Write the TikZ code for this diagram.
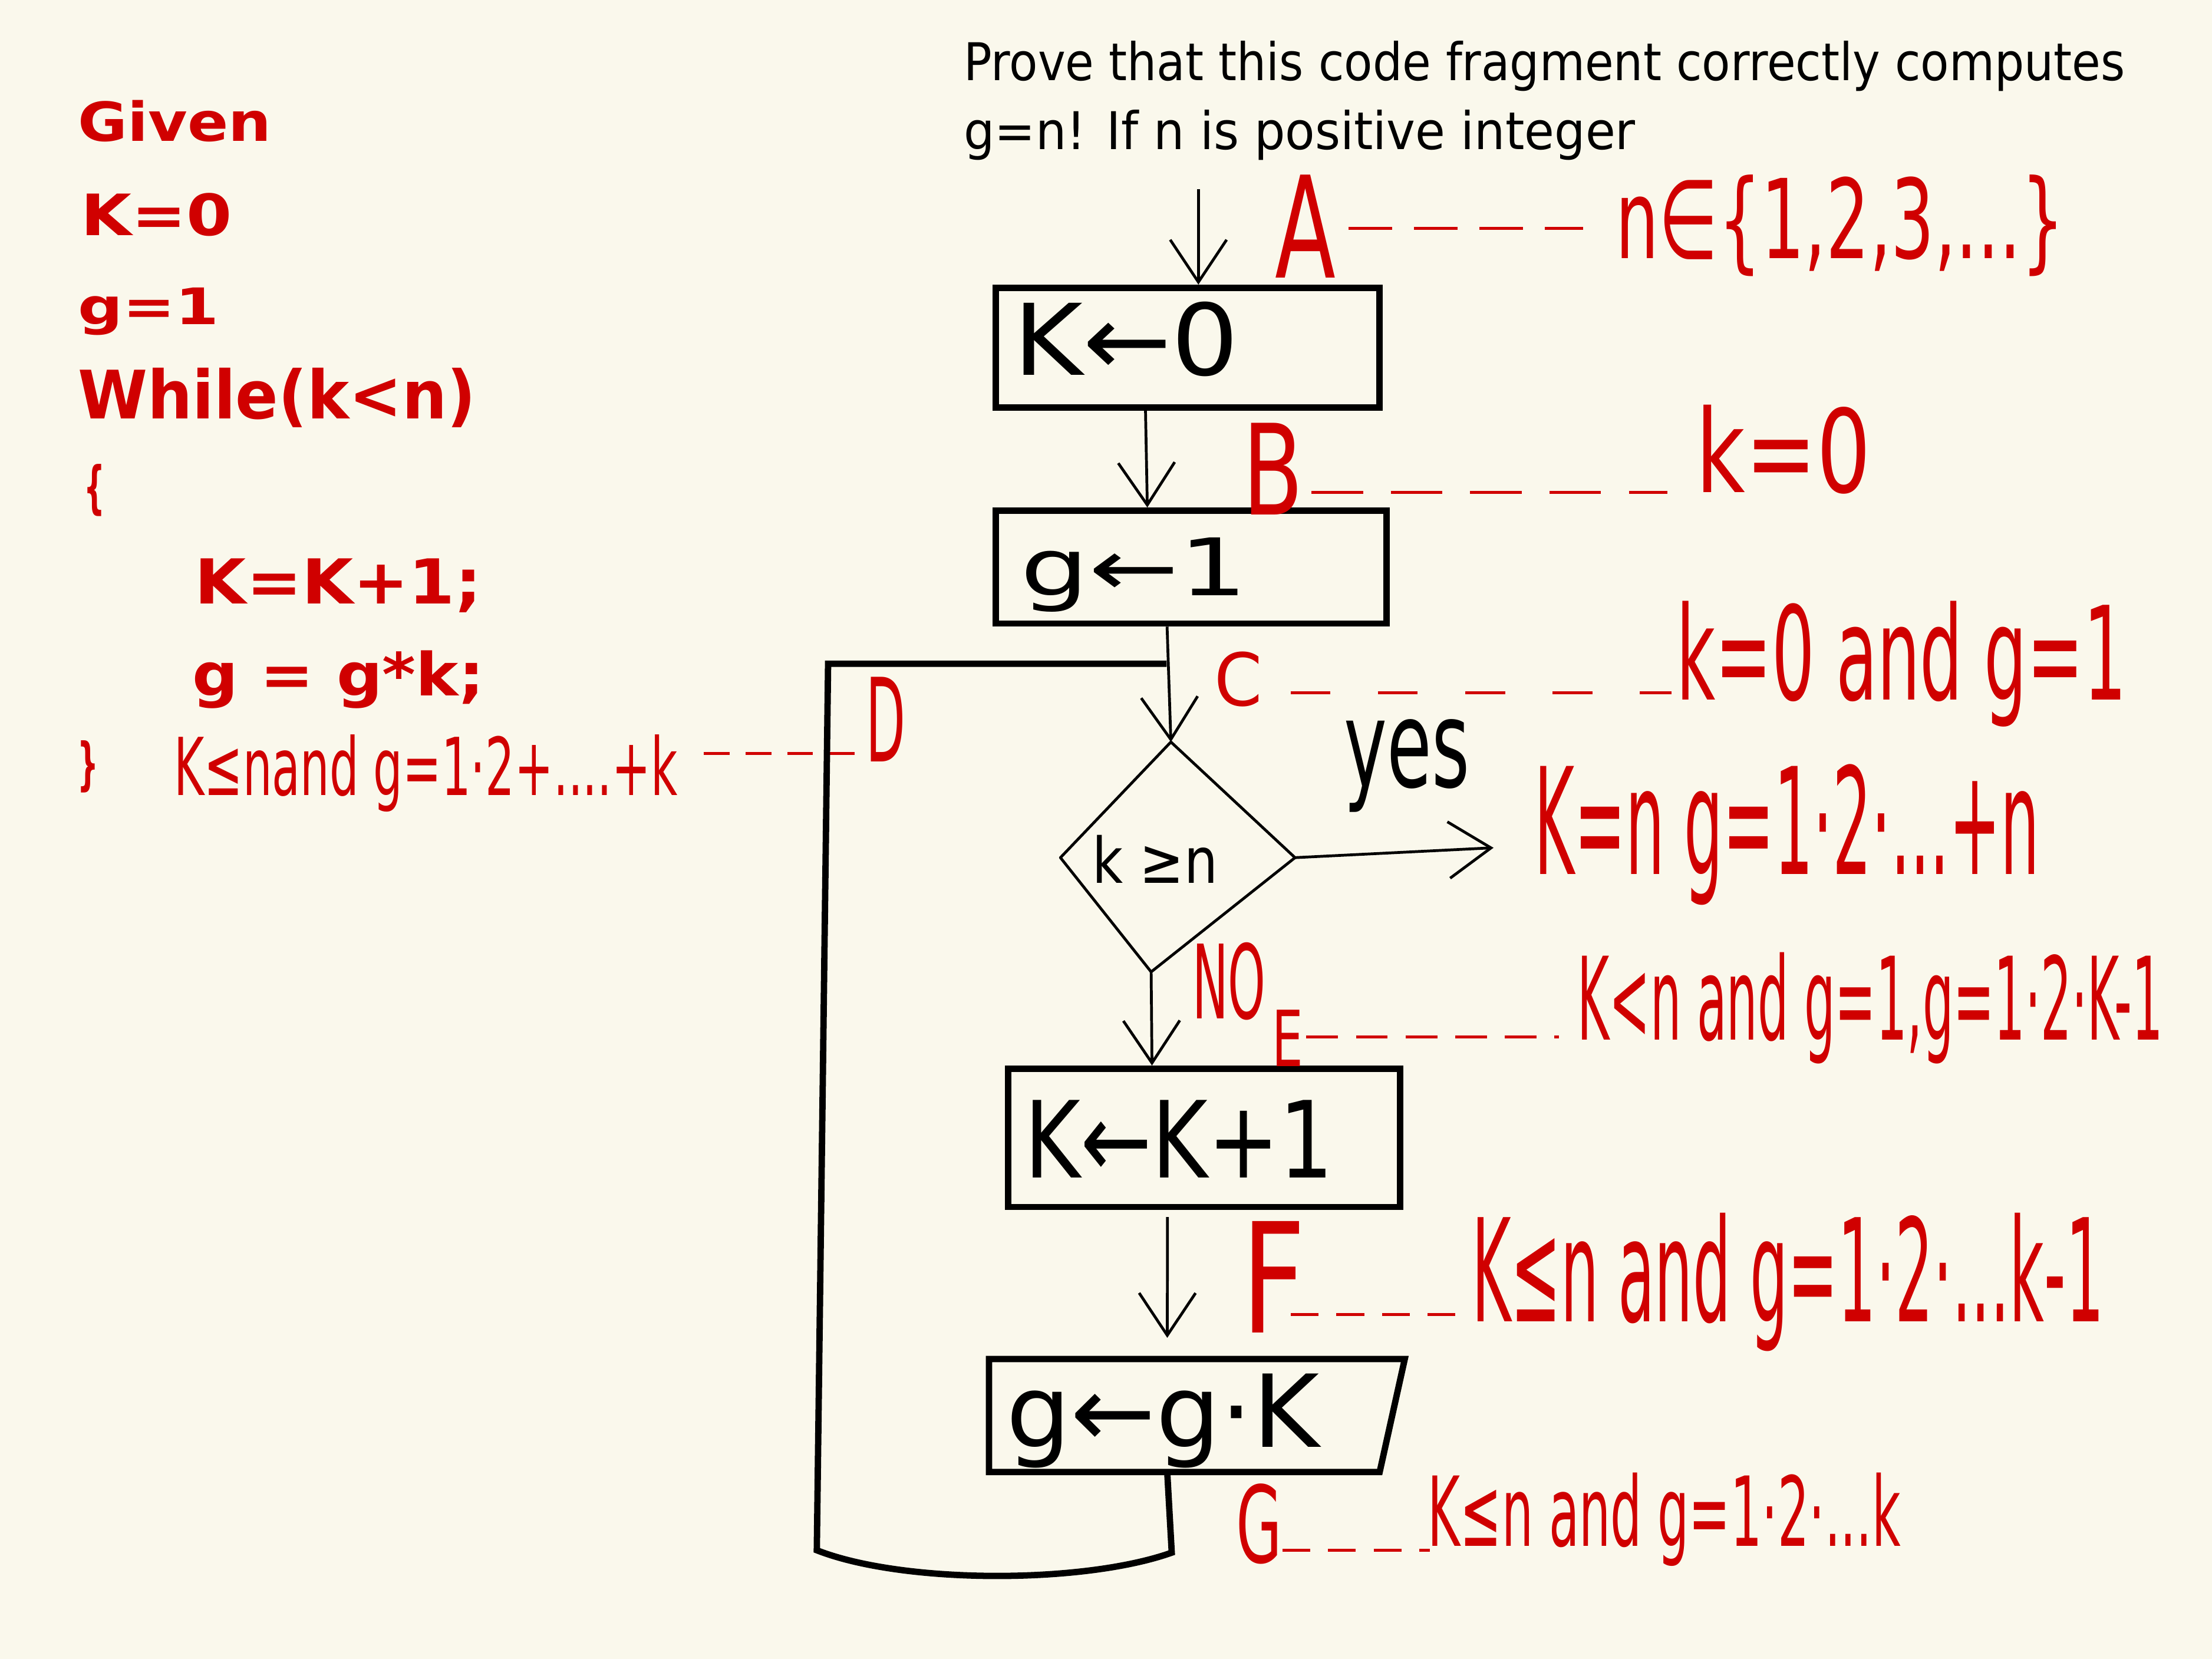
\documentclass[tikz,border=0pt]{standalone}
\usepackage{fontspec}
\setmainfont{DejaVu Sans}
\usepackage{graphicx}
\usetikzlibrary{arrows.meta}
\definecolor{bgc}{RGB}{250,248,236}
\definecolor{hred}{RGB}{208,0,0}
\newlength\U
\setlength\U{0.025cm}
\newcommand\fitt[3]{\resizebox{#1\U}{#2\U}{#3}}
\newcommand\fittot[3]{\resizebox*{#1\U}{#2\U}{#3}}
\begin{document}
\begin{tikzpicture}[x=0.025cm,y=-0.025cm,
  btxt/.style={inner sep=0pt,anchor=base west,text=black},
  htxt/.style={inner sep=0pt,anchor=base west,text=hred},
  ctxt/.style={inner sep=0pt,anchor=base west,text=hred,font=\bfseries},
  hc/.style={inner sep=0pt,anchor=center,text=hred},
  boxline/.style={draw=black,line width=3.2pt},
  boxnode/.style={inner sep=0pt,draw=black,line width=3.2pt},
  thin/.style={draw=black,line width=1.4pt},
  arr/.style={thin,-{Straight Barb[length=0.75cm,width=1.0cm,line width=1.4pt]}},
  lead/.style={draw=hred,line width=1.5pt}]
\fill[bgc] (0,0) rectangle (1568,1176);
\useasboundingbox (0,0) rectangle (1568,1176);

% ---- code on the left ----
\node[ctxt] (given) at (55,100) {\fitt{137}{29}{Given}};
\node[ctxt] (k0) at (57,167) {\fitt{107}{30}{K=0}};
\node[ctxt] (g1) at (55,230) {\fitt{100}{26}{g=1}};
\node[ctxt] (wh) at (55,297) {\fitt{282}{36}{While(k<n)}};
\node[hc,font=\bfseries] (lbr) at (67,347.5) {\fittot{15}{37}{\{}};
\node[ctxt] (kk) at (138,428) {\fitt{203}{32}{K=K+1;}};
\node[ctxt] (gg) at (136,493) {\fitt{207}{32}{g = g*k;}};
\node[hc,font=\bfseries] (rbr) at (62.5,543.5) {\fittot{15}{37}{\}}};
\node[htxt] (invD) at (123,564) {\fitt{357}{43}{K≤nand g=1·2+....+k}};
\node[hc] (lD) at (628,510) {\fittot{28}{60}{D}};
\coordinate (D1) at (499,534);
\coordinate (D2) at (607,534);
\draw[lead,dash pattern=on 13pt off 8pt] (D1) -- (D2);

% ---- question ----
\node[btxt] (q1) at (683,57) {\fitt{823}{28}{Prove that this code fragment correctly computes}};
\node[btxt] (q2) at (683,106) {\fitt{476}{28}{g=n! If n is positive integer}};

% ---- flowchart boxes ----
\node[boxnode,minimum width=272\U,minimum height=85\U] (b1) at (842,246.5) {};
\node[btxt] (t1) at (718,266) {\fitt{160}{52}{K←0}};
\node[boxnode,minimum width=277\U,minimum height=80\U] (b2) at (844.3,402) {};
\node[btxt] (t2) at (723,422) {\fitt{161}{41}{g←1}};
\node[boxnode,minimum width=278\U,minimum height=98\U] (b3) at (853.6,806.6) {};
\node[btxt] (t3) at (726,835) {\fitt{219}{55}{K←K+1}};
\node[inner sep=0pt,minimum width=294.2\U,minimum height=79.6\U] (b4) at (848.4,1003.5) {};
\draw[boxline] (b4.north west) -- (b4.north east) -- ([xshift=-17.8\U]b4.south east) -- (b4.south west) -- cycle;
\node[btxt] (t4) at (713,1026) {\fitt{222}{52}{g←g·K}};

% decision diamond
\coordinate (dT) at (830,526);
\coordinate (dR) at (918,608);
\coordinate (dB) at (816,689);
\coordinate (dL) at (751.7,608);
\draw[thin,line join=round] (dT) -- (dR) -- (dB) -- (dL) -- cycle;
\node[btxt] (tq) at (774,626) {\fitt{89}{34}{k ≥n}};

% connectors
\coordinate (in0) at (849.5,134);
\draw[arr] (in0) -- ([xshift=7.5\U]b1.north);
\draw[arr] ([xshift=-30\U]b1.south) -- ([xshift=-31\U]b2.north);
\draw[arr] ([xshift=-17\U]b2.south) -- (dT);
\coordinate (yesend) at (1058.7,601);
\draw[arr] (dR) -- (yesend);
\draw[arr] (dB) -- ([xshift=-37\U]b3.north);
\draw[arr,shorten <=5\U,shorten >=15\U] ([xshift=-26\U]b3.south) -- ([xshift=-21\U]b4.north);

% loop back
\coordinate (lj) at (827,470.5);
\coordinate (ltl) at (587,470.5);
\coordinate (lbl) at (579,1099);
\coordinate (lbrc) at (830.6,1100.7);
\draw[boxline,line join=miter] ([xshift=-21\U]b4.south) -- (lbrc) .. controls (768,1123) and (640,1123) .. (lbl) -- (ltl) -- (lj);

% yes / no
\node[btxt] (yes) at (952.6,558) {\fitt{89}{48}{yes}};
\node[htxt] (no) at (845,722) {\fitt{52}{54}{NO}};

% ---- red annotations ----
\node[hc] (lA) at (925.5,160.5) {\fittot{43}{73}{A}};
\coordinate (A1) at (956,162);
\coordinate (A2) at (1122,162);
\draw[lead,dash pattern=on 22pt off 11pt] (A1) -- (A2);
\node[htxt,anchor=west] (sA) at (1145,160) {\fittot{318}{72}{n∈\{1,2,3,...\}}};

\node[hc] (lB) at (902.5,332.5) {\fittot{43}{65}{B}};
\coordinate (B1) at (929.6,349);
\coordinate (B2) at (1182,349);
\draw[lead,dash pattern=on 26pt off 14pt] (B1) -- (B2);
\node[htxt] (sB) at (1202,349) {\fitt{124}{62}{k=0}};

\node[hc] (lC) at (878,481.5) {\fittot{34}{39}{C}};
\coordinate (C1) at (915,491);
\coordinate (C2) at (1185,491);
\draw[lead,dash pattern=on 20pt off 24pt] (C1) -- (C2);
\node[htxt] (sC) at (1188,496) {\fitt{319}{70}{k=0 and g=1}};

\node[htxt] (sY) at (1087.5,620) {\fitt{358}{78}{K=n g=1·2·...+n}};

\node[hc] (lE) at (913,736) {\fittot{22}{40}{E}};
\coordinate (E1) at (926,735);
\coordinate (E2) at (1105,735);
\draw[lead,dash pattern=on 16pt off 9pt] (E1) -- (E2);
\node[htxt] (sE) at (1118,737) {\fitt{415}{62}{K<n and g=1,g=1·2·K-1}};

\node[hc] (lF) at (902.75,905.5) {\fittot{45.5}{79}{F}};
\coordinate (F1) at (915,932);
\coordinate (F2) at (1033,932);
\draw[lead,dash pattern=on 14pt off 9pt] (F1) -- (F2);
\node[htxt] (sF) at (1043,937) {\fitt{448}{77}{K≤n and g=1·2·...k-1}};

\node[hc] (lG) at (892.75,1080.5) {\fittot{32.5}{57}{G}};
\coordinate (G1) at (909,1099);
\coordinate (G2) at (1013.6,1099);
\draw[lead,dash pattern=on 14pt off 9pt] (G1) -- (G2);
\node[htxt] (sG) at (1012,1096) {\fitt{335}{52}{K≤n and g=1·2·...k}};
\end{tikzpicture}
\end{document}
